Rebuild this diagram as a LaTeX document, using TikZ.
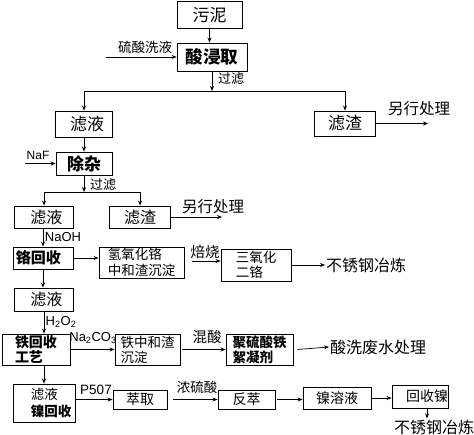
\documentclass[tikz,border=0pt]{standalone}
\usepackage{fontspec}
\setmainfont{Noto Sans CJK SC}
\newfontfamily\lat{Liberation Sans}
\usetikzlibrary{arrows.meta}
\tikzset{
  bx/.style={draw, line width=0.9pt, inner sep=0pt, align=left},
  arr/.style={-{Stealth[length=5pt,width=4pt]}, line width=0.7pt},
  ln/.style={line width=0.7pt},
  lbl/.style={inner sep=1pt},
  fA/.style={font=\fontsize{17}{19}\selectfont},
  fB/.style={font=\fontsize{16}{18}\selectfont},
  fC/.style={font=\fontsize{14.5}{17}\selectfont},
  fD/.style={font=\fontsize{13.5}{16}\selectfont},
  fL/.style={font=\lat\fontsize{13}{15}\selectfont},
}
\begin{document}
\begin{tikzpicture}[x=1pt,y=-1pt]
\useasboundingbox (0,0) rectangle (474,435);
% boxes
\node[bx,fA,minimum width=65pt,minimum height=27pt] (wuni) at (209.5,15) {污泥};
\node[bx,fA,font=\bfseries\fontsize{17.5}{19}\selectfont,minimum width=70pt,minimum height=28pt] (suanjin) at (212,57) {酸浸取};
\node[bx,fA,minimum width=57pt,minimum height=26pt] (lv1) at (84,124) {\hspace*{6pt}滤液};
\node[bx,fA,minimum width=61pt,minimum height=25pt] (zha1) at (345,123.5) {滤渣};
\node[bx,fA,font=\bfseries\fontsize{17}{19}\selectfont,minimum width=56pt,minimum height=23pt] (chuza) at (84,163.5) {除杂};
\node[bx,fB,minimum width=59pt,minimum height=22pt] (lv2) at (44,217) {\hspace*{5pt}滤液};
\node[bx,fB,minimum width=61pt,minimum height=22pt] (zha2) at (140,217) {滤渣};
\node[bx,fC,font=\bfseries\fontsize{15}{17}\selectfont,minimum width=60pt,minimum height=22pt] (gehui) at (43,258) {铬回收\hspace*{9pt}};
\node[bx,fD,minimum width=85pt,minimum height=31pt] (qing) at (141.5,262.5) {氢氧化铬\\中和渣沉淀};
\node[bx,fD,font=\fontsize{13.5}{15}\selectfont,minimum width=70pt,minimum height=32pt] (sanyang) at (256,265) {三氧化\\二铬};
\node[bx,fB,minimum width=59pt,minimum height=23pt] (lv3) at (44,299.5) {\hspace*{5pt}滤液};
\node[bx,fD,font=\bfseries\fontsize{14}{14.5}\selectfont,minimum width=68pt,minimum height=31pt] (tiehui) at (36,349.5) {铁回收\\工艺};
\node[bx,fD,font=\fontsize{13.5}{15}\selectfont,minimum width=65pt,minimum height=31pt] (tiezhong) at (147.5,349.5) {铁中和渣\\沉淀};
\node[bx,fD,font=\bfseries\fontsize{13.5}{15}\selectfont,minimum width=67pt,minimum height=31pt] (juliu) at (259.5,349.5) {聚硫酸铁\\絮凝剂};
\node[bx,fD,font=\fontsize{13.5}{17}\selectfont,minimum width=62pt,minimum height=38pt] (lvnie) at (44,403) {\hspace*{14pt}滤液\\\hspace*{14pt}\textbf{镍回收}};
\node[bx,fD,font=\fontsize{14}{16}\selectfont,minimum width=54pt,minimum height=19pt] (cuiqu) at (140,399.5) {萃取};
\node[bx,fD,font=\fontsize{14}{16}\selectfont,minimum width=57pt,minimum height=19pt] (fancui) at (246.5,399.5) {反萃};
\node[bx,fD,font=\fontsize{14}{16}\selectfont,minimum width=68pt,minimum height=22pt] (nierong) at (337,398) {镍溶液};
\node[bx,fD,font=\fontsize{14}{16}\selectfont,minimum width=56pt,minimum height=23pt] (huinie) at (420,396.5) {\hspace*{14pt}回收镍};
% labels
\node[lbl,fD] (t1) at (145,47) {硫酸洗液};
\node[lbl,font=\fontsize{13}{15}\selectfont] (t2) at (231,79) {过滤};
\node[lbl,fC,font=\fontsize{15.5}{17}\selectfont] (t3) at (419,109) {另行处理};
\node[lbl,fL,font=\lat\fontsize{12}{14}\selectfont] (t4) at (38,155) {NaF};
\node[lbl,font=\fontsize{13}{15}\selectfont] (t5) at (103,185) {过滤};
\node[lbl,fC,font=\fontsize{15.5}{17}\selectfont] (t6) at (213,207) {另行处理};
\node[lbl,fL] (t7) at (63,237) {NaOH};
\node[lbl,fC] (t8) at (205,252) {焙烧};
\node[lbl,fB,anchor=west] (bx1) at (325,265) {不锈钢冶炼};
\node[lbl,fL] (t9) at (61,322) {H\textsubscript{2}O\textsubscript{2}};
\node[lbl,fL] (t10) at (93,338) {Na\textsubscript{2}CO\textsubscript{3}};
\node[lbl,fC] (t11) at (207,337) {混酸};
\node[lbl,fB,anchor=west] (sx) at (329,347) {酸洗废水处理};
\node[lbl,fL,font=\lat\fontsize{13.5}{15}\selectfont] (t12) at (96,390) {P507};
\node[lbl,fD] (t13) at (197,387) {浓硫酸};
\node[lbl,fB] (bx2) at (434,427) {不锈钢冶炼};
% coordinates
\coordinate (s1) at (106,57);
\coordinate (j1) at (212,91);
\coordinate (o1) at (428,123.5);
\coordinate (naf) at (25,163.5);
\coordinate (j2) at (84,192);
\coordinate (o2) at (222,217);
\coordinate (b1) at (192,261);
\coordinate (n1) at (427,408);
% connectors
\draw[arr] (wuni.south) -- (wuni.south |- suanjin.north);
\draw[arr] (s1) -- (suanjin.west);
\draw[arr] (suanjin.south) -- (j1);
\draw[arr] (j1) -| (lv1.north);
\draw[arr] (j1) -| (zha1.north);
\draw[arr] (zha1.east) -- (o1);
\draw[arr] (lv1.south) -- (chuza.north);
\draw[arr] (naf) -- (chuza.west);
\draw[arr] (chuza.south) -- (j2);
\draw[arr] (j2) -| (lv2.north);
\draw[arr] (j2) -| (zha2.north);
\draw[arr] (zha2.east) -- (o2);
\draw[arr] (lv2.south -| gehui.north) -- (gehui.north);
\draw[arr] (gehui.east) -- (gehui.east -| qing.west);
\draw[arr] (b1) -- (b1 -| sanyang.west);
\draw[arr] (sanyang.east) -- (bx1.west);
\draw[arr] (gehui.south) -- (gehui.south |- lv3.north);
\draw[arr] (lv3.south) -- (lv3.south |- tiehui.north);
\draw[arr] (tiehui.east) -- (tiehui.east -| tiezhong.west);
\draw[arr] ([xshift=2pt]tiezhong.east) -- (juliu.west);
\draw[arr] ([xshift=4pt]juliu.east) -- (sx.west);
\draw[arr] (lvnie.north |- tiehui.south) -- (lvnie.north);
\draw[arr] (lvnie.east |- cuiqu.west) -- (cuiqu.west);
\draw[arr] ([xshift=6pt]cuiqu.east) -- (fancui.west);
\draw[arr] ([xshift=2pt]fancui.east) -- (fancui.east -| nierong.west);
\draw[arr] (nierong.east) -- (nierong.east -| huinie.west);
\draw[arr] (n1) -- (n1 |- bx2.north);
\end{tikzpicture}
\end{document}
